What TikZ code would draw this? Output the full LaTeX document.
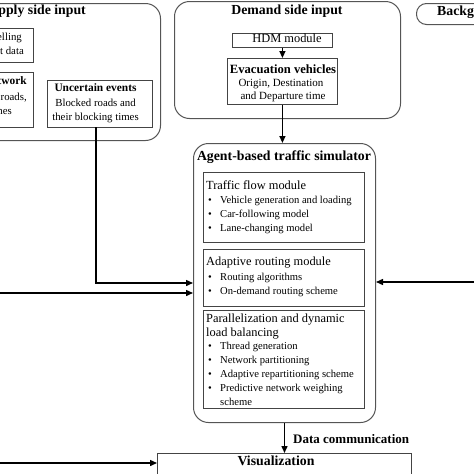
\documentclass[tikz,border=0pt]{standalone}
\usepackage{fontspec}
\setmainfont{Liberation Serif}
\usetikzlibrary{arrows.meta}
\definecolor{boxgray}{HTML}{555555}
\definecolor{innergray}{HTML}{444444}
\begin{document}
\begin{tikzpicture}[x=1pt,y=-1pt,
  outerbox/.style={draw=boxgray, line width=1pt, rounded corners=15pt, inner sep=0pt, anchor=north west},
  innerbox/.style={draw=innergray, line width=0.9pt, inner sep=0pt, anchor=north west},
  arr/.style={line width=1.4pt, -{Triangle[length=7pt,width=6pt]}},
  ttl/.style={inner sep=0pt, text height=0.7em, text depth=0.2em, font=\fontsize{13.8}{16}\selectfont\bfseries},
  hdr/.style={inner sep=0pt, text height=0.7em, text depth=0.2em, font=\fontsize{12.4}{14}\selectfont},
  itm/.style={inner sep=0pt, text height=0.7em, text depth=0.2em, anchor=west, font=\fontsize{10.6}{12}\selectfont},
  sbold/.style={inner sep=0pt, text height=0.7em, text depth=0.2em, font=\fontsize{11.4}{13}\selectfont\bfseries},
  sreg/.style={inner sep=0pt, text height=0.7em, text depth=0.2em, font=\fontsize{10.8}{13}\selectfont},
]
\useasboundingbox (0,0) rectangle (474,474);
\clip (0,0) rectangle (474,474);

% ---------- Supply side input ----------
\node[outerbox, minimum width=310pt, minimum height=137pt] (supply) at (-150,3) {};
\node[ttl, anchor=east] (supplyT) at (86,12) {Supply side input};
\node[innerbox, minimum width=93pt, minimum height=34pt] (model) at (-60,28) {};
\node[sreg, anchor=east] (modelA) at (22,38) {Modelling};
\node[sreg, anchor=east] (modelB) at (24,52) {input data};
\node[innerbox, minimum width=93pt, minimum height=55pt] (net) at (-60,72) {};
\node[sbold, anchor=east] (netA) at (27,82) {Road network};
\node[sreg, anchor=east] (netB) at (27,98) {Links, nodes, roads,};
\node[sreg, anchor=east] (netC) at (12,112) {lanes};
\node[innerbox, minimum width=105pt, minimum height=47pt] (unc) at (47,80) {};
\node[sbold] (uncA) at (95.5,89) {Uncertain events};
\node[sreg] (uncB) at (95.5,104) {Blocked roads and};
\node[sreg] (uncC) at (95.5,118) {their blocking times};

% ---------- Demand side input ----------
\node[outerbox, minimum width=226pt, minimum height=117pt] (demand) at (174,1) {};
\node[ttl] (demandT) at (287,12) {Demand side input};
\node[innerbox, minimum width=100pt, minimum height=14pt] (hdm) at (232,33) {};
\node[hdr] (hdmT) at (287,40) {HDM module};
\node[innerbox, minimum width=110pt, minimum height=46pt] (evac) at (227,58) {};
\node[sbold, font=\fontsize{12.6}{14}\selectfont\bfseries] (evacA) at (283,71) {Evacuation vehicles};
\node[sreg, font=\fontsize{11}{13}\selectfont] (evacB) at (281,84) {Origin, Destination};
\node[sreg, font=\fontsize{11}{13}\selectfont] (evacC) at (283,97) {and Departure time};

% ---------- Background ----------
\node[outerbox, rounded corners=10pt, minimum width=120pt, minimum height=21pt] (bg) at (416,3) {};
\node[ttl, anchor=west] (bgT) at (437,13) {Background};

% ---------- Simulator ----------
\node[outerbox, minimum width=182pt, minimum height=279pt] (sim) at (193,143) {};
\node[ttl] (simT) at (284,158) {Agent-based traffic simulator};

\node[innerbox, minimum width=161pt, minimum height=70pt] (tf) at (203,172) {};
\node[hdr, anchor=west] (tfT) at (206,187) {Traffic flow module};
\node[itm] (tf1) at (208,201) {\makebox[12pt][l]{\textbullet}Vehicle generation and loading};
\node[itm] (tf2) at (208,215) {\makebox[12pt][l]{\textbullet}Car-following model};
\node[itm] (tf3) at (208,229) {\makebox[12pt][l]{\textbullet}Lane-changing model};

\node[innerbox, minimum width=161pt, minimum height=57pt] (ar) at (203,249) {};
\node[hdr, anchor=west] (arT) at (206,263) {Adaptive routing module};
\node[itm] (ar1) at (208,278) {\makebox[12pt][l]{\textbullet}Routing algorithms};
\node[itm] (ar2) at (208,292) {\makebox[12pt][l]{\textbullet}On-demand routing scheme};

\node[innerbox, minimum width=161pt, minimum height=98pt] (pl) at (203,310) {};
\node[hdr, anchor=west] (plT1) at (206,320) {Parallelization and dynamic};
\node[hdr, anchor=west] (plT2) at (206,334) {load balancing};
\node[itm] (pl1) at (208,347) {\makebox[12pt][l]{\textbullet}Thread generation};
\node[itm] (pl2) at (208,361) {\makebox[12pt][l]{\textbullet}Network partitioning};
\node[itm] (pl3) at (208,375) {\makebox[12pt][l]{\textbullet}Adaptive repartitioning scheme};
\node[itm] (pl4) at (208,389) {\makebox[12pt][l]{\textbullet}Predictive network weighing};
\node[itm] (pl5) at (220,403) {scheme};

% ---------- Visualization ----------
\node[innerbox, line width=1pt, minimum width=254pt, minimum height=80pt] (vis) at (157,453) {};
\node[ttl] (visT) at (276,463) {Visualization};
\node[ttl, anchor=west, font=\fontsize{13}{15}\selectfont\bfseries] (dc) at (293,441) {Data communication};

% ---------- Connectors ----------
\draw[arr] (hdm.south) -- (evac.north);
\draw[arr] (evac.south) -- (evac.south |- sim.north);
\coordinate (uncout) at (96,127);
\draw[arr] (uncout) |- (sim.west);
\coordinate (leftB) at (-5,293);
\draw[arr] (leftB) -- (leftB -| sim.west);
\coordinate (rightA) at (480,282);
\draw[arr] (rightA) -- (rightA -| sim.east);
\draw[arr] (sim.south) -- (sim.south |- vis.north);
\coordinate (leftC) at (-5,463);
\draw[arr] (leftC) -- (leftC -| vis.west);
\end{tikzpicture}
\end{document}
